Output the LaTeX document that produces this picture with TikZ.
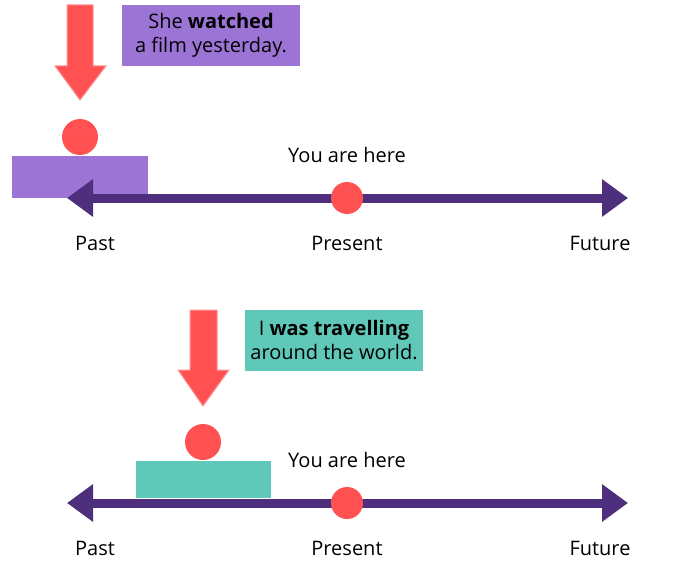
\documentclass[tikz,border=0pt]{standalone}
\usepackage{fontspec}
\setmainfont{Open Sans}
\usetikzlibrary{arrows.meta}
\definecolor{lineviolet}{HTML}{4E2F7E}
\definecolor{boxpurple}{HTML}{9C74D6}
\definecolor{boxteal}{HTML}{5FC8B8}
\definecolor{dotred}{HTML}{FF5052}
\tikzset{
  timeline/.style={lineviolet, line width=9pt, {Triangle[length=26pt,width=36pt]}-{Triangle[length=26pt,width=36pt]}},
  dot/.style={circle, fill=dotred, minimum size=#1, inner sep=0pt},
  label/.style={font=\fontsize{20}{24}\selectfont, text=black},
  pointer/.style={fill=dotred, draw=dotred!60, line width=1pt}
}
\begin{document}
\begin{tikzpicture}[x=1pt,y=-1pt]
  \useasboundingbox (0,0) rectangle (695,572);
  % first example
  \fill[boxpurple] (122,5) rectangle (300,66);
  \node[label, align=center] (she) at (211,35) {She \textbf{watched}\\a film yesterday.};
  \filldraw[pointer] (67,5) -- (93,5) -- (93,66) -- (106,66) -- (80,100) -- (55,66) -- (67,66) -- cycle;
  \node[dot=36pt] (event1) at (80,137) {};
  \fill[boxpurple] (12,156) rectangle (148,198);
  \coordinate (left1) at (67,198);
  \coordinate (right1) at (628,198);
  \draw[timeline] (left1) -- (right1);
  \node[dot=32pt] (now1) at (347,198) {};
  \node[label] (here1) at (347,155) {You are here};
  \node[label] (past1) at (95,243) {Past};
  \node[label] (present1) at (347,243) {Present};
  \node[label] (future1) at (600,243) {Future};
  % second example
  \fill[boxteal] (245,310) rectangle (423,371);
  \node[label, align=center] (was) at (334,340) {I \textbf{was travelling}\\around the world.};
  \filldraw[pointer] (190,310) -- (217,310) -- (217,370) -- (229,370) -- (203,406) -- (178,370) -- (190,370) -- cycle;
  \node[dot=36pt] (event2) at (203,442) {};
  \fill[boxteal] (136,461) rectangle (271,498);
  \coordinate (left2) at (67,503);
  \coordinate (right2) at (628,503);
  \draw[timeline] (left2) -- (right2);
  \node[dot=32pt] (now2) at (347,503) {};
  \node[label] (here2) at (347,460) {You are here};
  \node[label] (past2) at (95,548) {Past};
  \node[label] (present2) at (347,548) {Present};
  \node[label] (future2) at (600,548) {Future};
\end{tikzpicture}
\end{document}
